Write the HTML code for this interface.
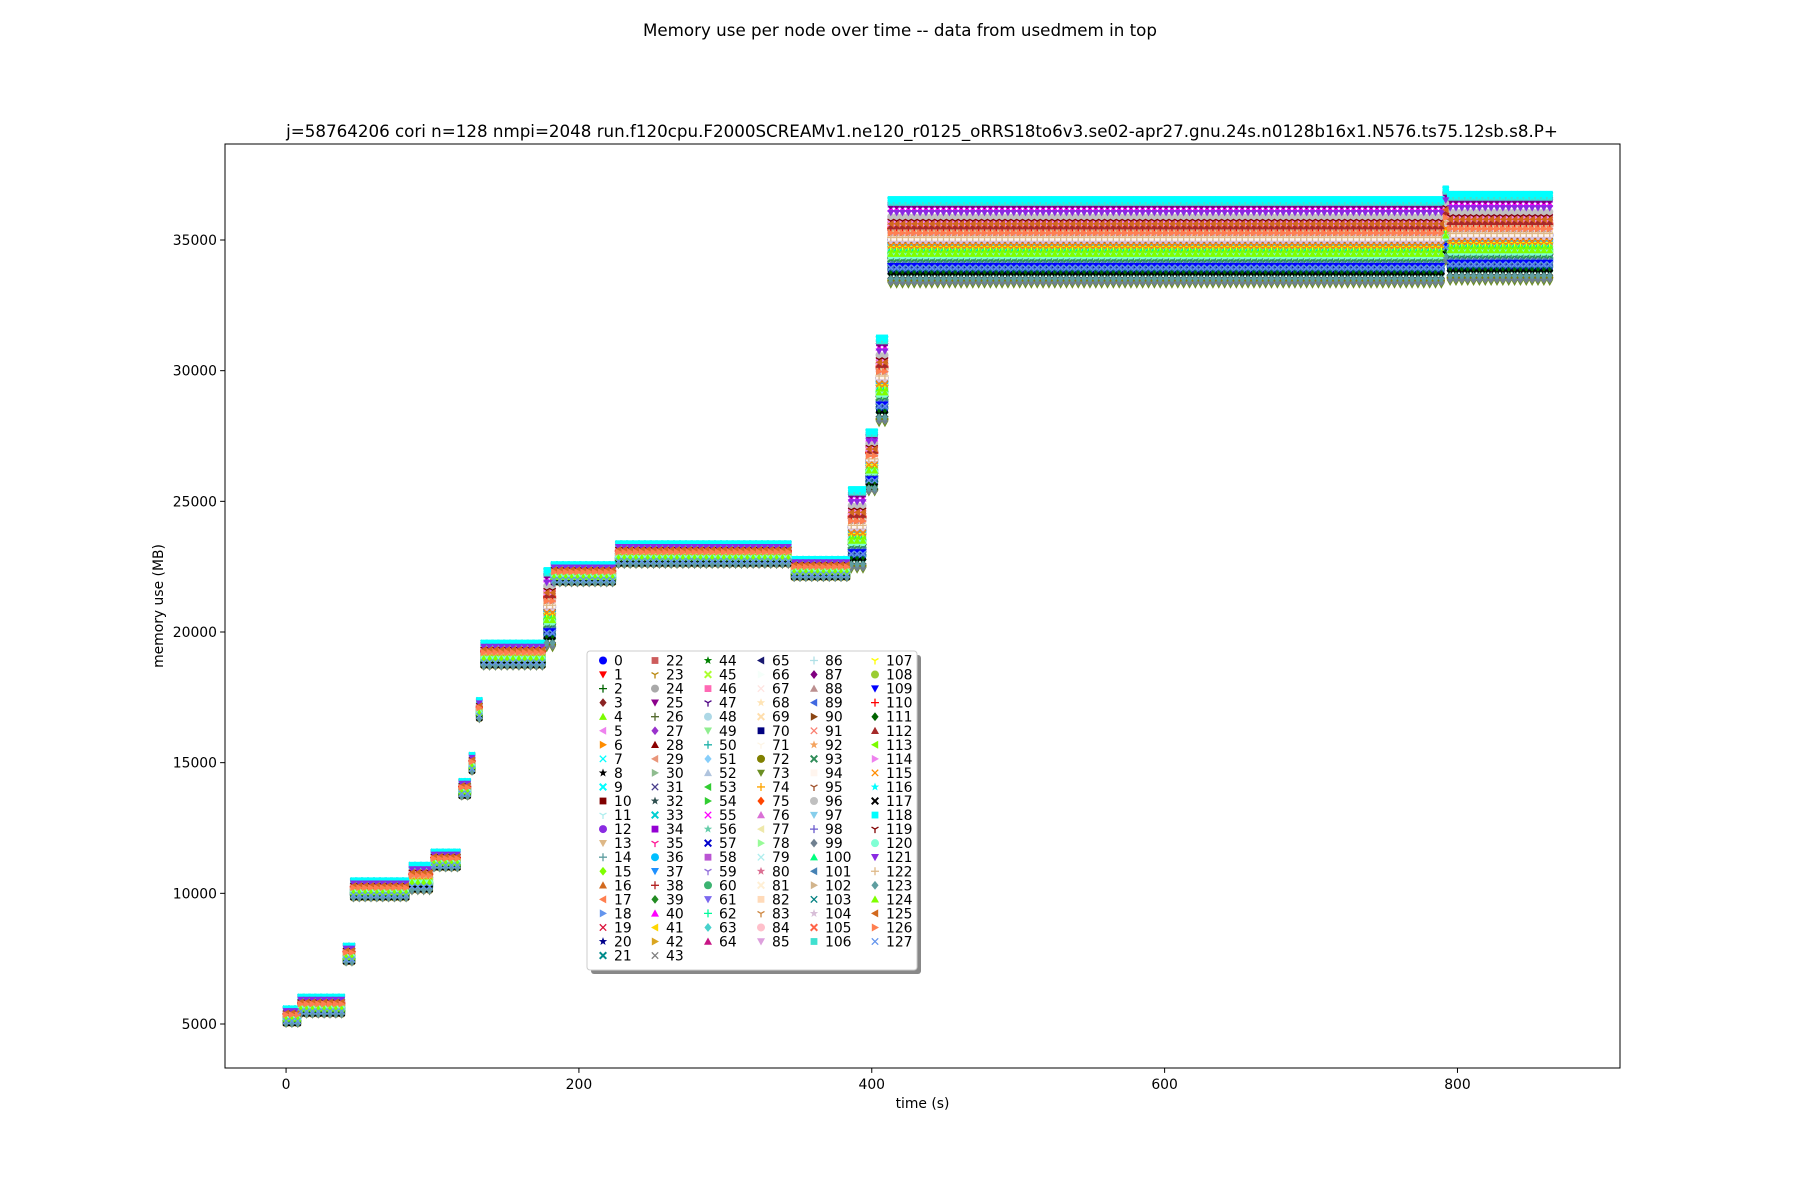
<!DOCTYPE html>
<html><head><meta charset="utf-8"><style>
body{margin:0;background:#fff;}
svg{display:block;font-family:"DejaVu Sans","Liberation Sans",sans-serif;}
</style></head><body>
<svg id="chart" width="1800" height="1200" viewBox="0 0 1800 1200">
<rect width="1800" height="1200" fill="#fff"/>
<text x="900" y="36" text-anchor="middle" font-size="16.7">Memory use per node over time -- data from usedmem in top</text>
<text x="922" y="137" text-anchor="middle" font-size="16.7">j=58764206 cori n=128 nmpi=2048 run.f120cpu.F2000SCREAMv1.ne120_r0125_oRRS18to6v3.se02-apr27.gnu.24s.n0128b16x1.N576.ts75.12sb.s8.P+</text>
<g id="plot"></g>
<g id="axes"></g>
<g id="legend"></g>
</svg>
<script>
const phaseStart=[0,10,41,46,86,101,120,127,132,135,178,183,227,347,386,398,405,413,792,795];
const phaseEnd=[8,40,45,85,100,118,125,129,134,176,182,225,345,385,396,404,410,790,793,866];
const phaseLow=[4950,5300,7300,9750,10000,10900,13650,14600,16600,18600,19200,21800,22500,22000,22200,25200,27800,33100,34000,33200];
const phaseHigh=[5600,6050,8000,10500,11100,11600,14300,15300,17400,19600,22400,22600,23400,22800,25500,27700,31300,36600,37000,36800];
const xTicks=[0,200,400,600,800];
const yTicks=[5000,10000,15000,20000,25000,30000,35000];
const nodeRank=[0.55,0.62,0.35,0.58,0.40,0.70,0.66,0.30,0.33,0.97,0.64,0.52,0.68,0.44,0.47,0.38,0.60,0.57,0.50,0.45,0.20,0.28,0.63,0.42,0.54,0.90,0.31,0.71,0.74,0.56,0.48,0.36,0.25,0.98,0.93,0.69,0.51,0.46,0.65,0.18,0.88,0.59,0.61,0.49,0.16,0.41,0.67,0.34,0.43,0.37,0.29,0.53,0.45,0.39,0.32,0.72,0.30,0.26,0.76,0.60,0.22,0.27,0.40,0.35,0.80,0.24,0.55,0.58,0.62,0.64,0.21,0.60,0.10,0.05,0.66,0.70,0.68,0.57,0.36,0.33,0.61,0.59,0.63,0.56,0.69,0.60,0.30,0.92,0.58,0.23,0.62,0.64,0.66,0.33,0.55,0.50,0.80,0.42,0.27,0.08,0.44,0.28,0.65,0.19,0.52,0.71,0.95,0.46,0.38,0.26,0.67,0.17,0.69,0.41,0.73,0.48,0.96,0.15,0.99,0.75,0.37,0.84,0.57,0.12,0.39,0.72,0.62,0.24];
const colors=["blue","red","darkgreen","#8b2323","lawngreen","violet","darkorange","cyan","black","aqua","maroon","paleturquoise","blueviolet","burlywood","cadetblue","chartreuse","chocolate","coral","cornflowerblue","crimson","darkblue","darkcyan","indianred","darkgoldenrod","darkgray","darkmagenta","darkolivegreen","darkorchid","darkred","darksalmon","darkseagreen","darkslateblue","darkslategray","darkturquoise","darkviolet","deeppink","deepskyblue","dodgerblue","firebrick","forestgreen","fuchsia","gold","goldenrod","gray","green","greenyellow","hotpink","indigo","lightblue","lightgreen","lightseagreen","lightskyblue","lightsteelblue","limegreen","limegreen","magenta","mediumaquamarine","mediumblue","mediumorchid","mediumpurple","mediumseagreen","mediumslateblue","mediumspringgreen","mediumturquoise","mediumvioletred","midnightblue","mintcream","mistyrose","moccasin","navajowhite","navy","oldlace","olive","olivedrab","orange","orangered","orchid","palegoldenrod","palegreen","paleturquoise","palevioletred","papayawhip","peachpuff","peru","pink","plum","powderblue","purple","rosybrown","royalblue","saddlebrown","salmon","sandybrown","seagreen","seashell","sienna","silver","skyblue","slateblue","slategray","springgreen","steelblue","tan","teal","thistle","tomato","turquoise","yellow","yellowgreen","blue","red","darkgreen","brown","lawngreen","violet","darkorange","cyan","black","aqua","maroon","aquamarine","blueviolet","burlywood","cadetblue","chartreuse","chocolate","coral","cornflowerblue"];
const shapes=["o","v","+","D","^","<",">","x","*","X","s","1"];

const L=225,R=1620,T=144,B=1068,xmin=-41.7,xmax=911,ymin=3316,ymax=38674;
const xs=v=>L+(v-xmin)/(xmax-xmin)*(R-L);
const ys=v=>B-(v-ymin)/(ymax-ymin)*(B-T);
const NS="http://www.w3.org/2000/svg";
function mk(tag,attrs,parent){const e=document.createElementNS(NS,tag);for(const k in attrs)e.setAttribute(k,attrs[k]);parent.appendChild(e);return e;}
function markerPath(s,x,y,r){
  switch(s){
    case "o":return `M${x-r},${y}a${r},${r} 0 1,0 ${2*r},0a${r},${r} 0 1,0 ${-2*r},0Z`;
    case "v":return `M${x-r},${y-r*0.8}L${x+r},${y-r*0.8}L${x},${y+r}Z`;
    case "^":return `M${x-r},${y+r*0.8}L${x+r},${y+r*0.8}L${x},${y-r}Z`;
    case "<":return `M${x+r*0.8},${y-r}L${x+r*0.8},${y+r}L${x-r},${y}Z`;
    case ">":return `M${x-r*0.8},${y-r}L${x-r*0.8},${y+r}L${x+r},${y}Z`;
    case "D":return `M${x},${y-r*1.1}L${x+r*0.9},${y}L${x},${y+r*1.1}L${x-r*0.9},${y}Z`;
    case "s":return `M${x-r*0.85},${y-r*0.85}h${1.7*r}v${1.7*r}h${-1.7*r}Z`;
    case "*":{let p="";for(let i=0;i<10;i++){const a=-Math.PI/2+i*Math.PI/5,rr=i%2?r*0.45:r*1.1;p+=(i?"L":"M")+(x+rr*Math.cos(a))+","+(y+rr*Math.sin(a));}return p+"Z";}
    case "X":{const a=r*0.35,b=r;return `M${x-b},${y-b+a}L${x-b+a},${y-b}L${x},${y-a}L${x+b-a},${y-b}L${x+b},${y-b+a}L${x+a},${y}L${x+b},${y+b-a}L${x+b-a},${y+b}L${x},${y+a}L${x-b+a},${y+b}L${x-b},${y+b-a}L${x-a},${y}Z`;}
  }
  return "";
}
function drawMarker(parent,s,x,y,c,r){
  if(s==="+"||s==="x"||s==="1"){
    let d;
    if(s==="+")d=`M${x-r},${y}H${x+r}M${x},${y-r}V${y+r}`;
    else if(s==="x")d=`M${x-r*0.8},${y-r*0.8}L${x+r*0.8},${y+r*0.8}M${x-r*0.8},${y+r*0.8}L${x+r*0.8},${y-r*0.8}`;
    else d=`M${x},${y}V${y+r}M${x},${y}L${x-r*0.87},${y-r*0.5}M${x},${y}L${x+r*0.87},${y-r*0.5}`;
    return mk("path",{d:d,stroke:c,"stroke-width":1.3,fill:"none"},parent);
  }
  return mk("path",{d:markerPath(s,x,y,r),fill:c},parent);
}
const plot=document.getElementById("plot");
for(let n=0;n<128;n++){
  const g=mk("g",{},plot);
  
  
  const sh=shapes[n%12],c=colors[n];
  for(let p=0;p<phaseStart.length;p++){
    for(let t=phaseStart[p];t<=phaseEnd[p];t+=4){
      const v=phaseLow[p]+nodeRank[n]*(phaseHigh[p]-phaseLow[p]);
      const m=drawMarker(g,sh,xs(t),ys(v),c,3.6);
      
      
    }
  }
}
const ax=document.getElementById("axes");
const frame=mk("rect",{x:L,y:T,width:R-L,height:B-T,fill:"none",stroke:"#000","stroke-width":1},ax);


xTicks.forEach(v=>{const x=xs(v);
  mk("line",{x1:x,x2:x,y1:B,y2:B+4.9,stroke:"#000"},ax);
  const t=mk("text",{x:x,y:B+21,"text-anchor":"middle","font-size":13.9},ax);t.textContent=v;
  
  
});
yTicks.forEach(v=>{const y=ys(v);
  mk("line",{x1:L-4.9,x2:L,y1:y,y2:y,stroke:"#000"},ax);
  const t=mk("text",{x:L-8,y:y+5,"text-anchor":"end","font-size":13.9},ax);t.textContent=v;
  
  
});
const xl=mk("text",{x:(L+R)/2,y:B+40,"text-anchor":"middle","font-size":13.9},ax);xl.textContent="time (s)";


const yl=mk("text",{x:0,y:0,"text-anchor":"middle","font-size":13.9,transform:`translate(163,${(T+B)/2}) rotate(-90)`},ax);yl.textContent="memory use (MB)";


// legend
const lg=document.getElementById("legend");
mk("rect",{x:591,y:655,width:330,height:319,fill:"#888",rx:3},lg);
const box=mk("rect",{x:587,y:651,width:330,height:319,fill:"#fff",stroke:"#ccc",rx:3},lg);


const colX=[603,655,708,761,814,875];
const colStart=[0,22,44,65,86,107,128];
for(let n=0;n<128;n++){
  let col=0;while(n>=colStart[col+1])col++;
  const row=n-colStart[col];
  const x=colX[col],y=660.5+row*14.05;
  const e=mk("g",{},lg);
  
  
  drawMarker(e,shapes[n%12],x,y,colors[n],4);
  const t=mk("text",{x:x+11,y:y+5,"font-size":13.9},e);t.textContent=n;
}
</script>
</body></html>
